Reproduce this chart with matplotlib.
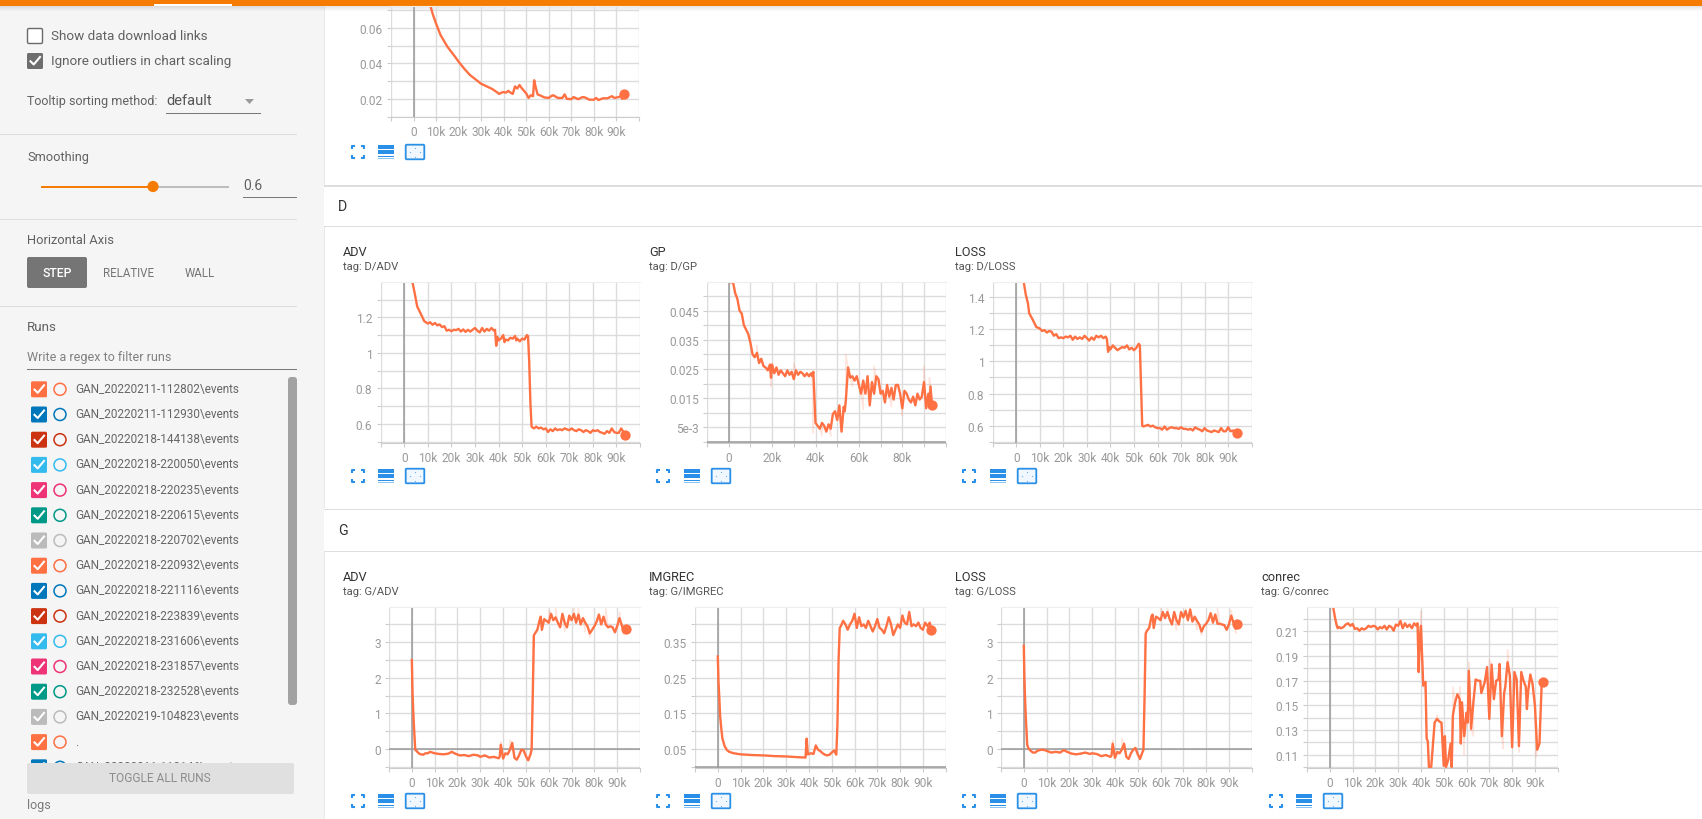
import matplotlib
matplotlib.use("Agg")
import matplotlib.pyplot as plt
from matplotlib.patches import Rectangle, FancyBboxPatch, Circle, Polygon

plt.rcParams['font.family'] = ['Roboto', 'DejaVu Sans']

W, H = 1702, 820
ORANGE = '#ff7043'
ACCENT = '#f57c00'
ICON = '#2a8fe6'

# chart data, steps in thousands
LOSS_X = [7.5, 8.5, 10, 12, 15, 18, 20, 22.5, 25, 27.5, 30, 32.5, 35, 38, 39, 40, 41, 42, 43, 44, 45, 46, 47, 48, 49, 50, 51, 52, 53, 53.5, 54, 55, 56, 58, 60, 61, 62, 64, 66, 67, 68, 70, 71, 73, 75, 76, 78, 80, 81, 82, 84, 86, 88, 89, 91, 92, 92.5, 93, 93.5]
LOSS_Y = [.0725, .068, .0625, .056, .0495, .0445, .041, .037, .0335, .031, .0285, .027, .0255, .0228, .0235, .0238, .0235, .0245, .0235, .0228, .027, .0258, .0278, .026, .0245, .023, .0205, .022, .0215, .0305, .0275, .0225, .022, .0208, .0205, .0215, .022, .0205, .0205, .0225, .020, .0198, .021, .0198, .021, .0208, .0195, .0195, .0205, .0193, .0203, .0203, .0215, .0205, .021, .0215, .02, .023, .023]

D_ADV_X = [3.5, 4.5, 5.5, 7, 8.5, 10, 11, 12, 13, 14, 15, 16, 17, 18, 19, 20, 21, 22, 23, 24, 25, 26, 27, 28, 29, 30, 31, 32, 33, 34, 35, 36, 37, 38, 38.5, 39, 39.5, 40, 41, 42, 42.5, 43, 44, 45, 46, 47, 47.5, 48, 49, 50, 51, 52, 52.5, 53, 53.5, 54, 55, 56, 57, 58, 59, 60, 61, 62, 63, 64, 65, 66, 67, 68, 69, 70, 71, 72, 73, 74, 75, 76, 77, 78, 79, 80, 81, 82, 83, 84, 85, 86, 87, 88, 89, 90, 91, 92, 93, 93.7]
D_ADV_Y = [1.397, 1.33, 1.26, 1.22, 1.178, 1.165, 1.172, 1.158, 1.168, 1.155, 1.16, 1.145, 1.15, 1.125, 1.13, 1.122, 1.13, 1.128, 1.135, 1.12, 1.132, 1.118, 1.13, 1.12, 1.13, 1.14, 1.125, 1.115, 1.14, 1.12, 1.135, 1.125, 1.14, 1.125, 1.13, 1.04, 1.09, 1.07, 1.08, 1.10, 1.06, 1.075, 1.07, 1.085, 1.08, 1.095, 1.07, 1.08, 1.065, 1.08, 1.075, 1.10, 1.095, 0.95, 0.72, 0.585, 0.575, 0.585, 0.575, 0.58, 0.57, 0.575, 0.555, 0.57, 0.56, 0.575, 0.565, 0.57, 0.565, 0.575, 0.57, 0.565, 0.575, 0.565, 0.56, 0.57, 0.565, 0.555, 0.565, 0.56, 0.55, 0.565, 0.56, 0.565, 0.555, 0.55, 0.545, 0.56, 0.55, 0.575, 0.555, 0.55, 0.55, 0.575, 0.555, 0.54]

D_GP_X = [1, 2, 3, 4, 5, 6, 7, 8, 9, 10, 11, 12, 13, 14, 15, 16, 17, 18, 19, 19.5, 20, 21, 22, 23, 24, 25, 26, 27, 28, 29, 30, 31, 32, 33, 34, 35, 36, 37, 38, 38.5, 39, 40, 41, 42, 43, 44, 45, 46, 47, 48, 49, 50, 51, 52, 53, 53.5, 54, 55, 56, 57, 58, 59, 60, 61, 62, 63, 64, 65, 66, 67, 68, 69, 70, 71, 72, 73, 74, 75, 76, 77, 78, 79, 80, 81, 82, 83, 84, 85, 86, 87, 88, 89, 90, 91, 92, 92.5, 93, 93.7]
D_GP_Y = [.0547, .0547, .051, .049, .045, .044, .040, .0385, .037, .034, .030, .029, .0305, .027, .0285, .026, .0255, .0245, .0265, .022, .0265, .0235, .0255, .023, .0245, .0235, .0225, .0245, .023, .024, .0215, .0245, .023, .024, .0235, .0225, .0235, .0225, .0235, .0225, .024, .0065, .0055, .0045, .0065, .0055, .0035, .006, .0045, .0095, .0105, .0075, .0125, .0035, .012, .0105, .0145, .0255, .022, .0225, .021, .0225, .0195, .0165, .021, .0165, .0225, .0125, .0205, .0165, .0225, .0215, .0165, .0175, .0135, .0195, .0155, .0185, .0145, .0195, .0195, .0165, .0115, .0175, .0165, .0145, .0135, .0155, .0125, .0165, .0145, .0155, .0205, .0115, .0165, .0125, .019, .0125]
D_GP_RAW_X = [3, 13, 19.5, 30, 39, 43, 47, 54, 57, 62, 67, 75, 80, 90, 92.5]
D_GP_RAW_Y = [.050, .033, .019, .027, .003, .002, .002, .030, .019, .011, .026, .012, .009, .026, .022]

D_TOTAL_X = [3.2, 4, 5, 5.5, 7, 8.5, 10, 11, 12, 13, 14, 15, 16, 17, 18, 19, 20, 21, 22, 23, 24, 25, 26, 27, 28, 29, 30, 31, 32, 33, 34, 35, 36, 37, 38, 38.5, 39, 39.5, 40, 41, 42, 43, 44, 45, 46, 47, 48, 49, 50, 51, 52, 52.5, 53, 53.5, 54, 55, 56, 57, 58, 59, 60, 61, 62, 63, 64, 65, 66, 67, 68, 69, 70, 71, 72, 73, 74, 75, 76, 77, 78, 79, 80, 81, 82, 83, 84, 85, 86, 87, 88, 89, 90, 91, 92, 93, 93.7]
D_TOTAL_Y = [1.493, 1.42, 1.36, 1.30, 1.26, 1.215, 1.205, 1.19, 1.195, 1.18, 1.19, 1.185, 1.16, 1.17, 1.145, 1.15, 1.145, 1.155, 1.15, 1.16, 1.135, 1.155, 1.14, 1.15, 1.14, 1.16, 1.145, 1.13, 1.15, 1.135, 1.16, 1.15, 1.16, 1.145, 1.155, 1.14, 1.06, 1.09, 1.075, 1.10, 1.085, 1.07, 1.08, 1.09, 1.085, 1.10, 1.075, 1.085, 1.07, 1.085, 1.11, 1.10, .85, .60, .595, .60, .605, .595, .60, .59, .585, .585, .575, .595, .575, .585, .59, .585, .585, .58, .59, .58, .58, .575, .58, .57, .59, .58, .575, .565, .585, .57, .565, .56, .57, .565, .56, .585, .565, .565, .59, .565, .57, .56, .555]

G_ADV_X = [0, .3, .8, 1.5, 2, 3, 4, 5, 6, 7, 8, 9, 10, 12, 14, 16, 17.5, 19, 21, 23, 25, 27, 29, 30, 32, 34, 36, 38, 38.5, 39, 40, 41, 42, 43, 44, 45, 46, 47, 48, 49, 50, 51, 52, 52.5, 53, 53.5, 54, 55, 56, 56.5, 57, 58, 59, 60, 61, 62, 63, 64, 65, 66, 67, 68, 69, 70, 71, 72, 73, 74, 75, 76, 77, 78, 79, 80, 81, 82, 83, 84, 85, 86, 87, 88, 89, 90, 91, 92, 93, 93.7]
G_ADV_Y = [2.5, 1.6, .8, -.02, -.05, -.12, -.15, -.16, -.12, -.12, -.08, -.1, -.12, -.14, -.15, -.13, -.08, -.13, -.18, -.17, -.2, -.16, -.18, -.22, -.18, -.24, -.22, -.26, -.22, .12, -.27, -.12, -.15, -.02, .17, -.25, -.3, -.18, -.02, -.04, -.2, -.32, -.15, -.02, 1.5, 3.2, 3.25, 3.35, 3.62, 3.72, 3.35, 3.65, 3.6, 3.55, 3.8, 3.62, 3.7, 3.55, 3.42, 3.8, 3.55, 3.42, 3.75, 3.62, 3.8, 3.55, 3.78, 3.5, 3.68, 3.55, 3.45, 3.25, 3.35, 3.45, 3.58, 3.78, 3.5, 3.72, 3.5, 3.42, 3.45, 3.42, 3.28, 3.45, 3.68, 3.48, 3.3, 3.38]
G_ADV_RAW_X = [53, 60, 63, 67, 71, 73, 76, 78, 85, 91, 93, 39, 43]
G_ADV_RAW_Y = [3.1, 3.9, 3.95, 3.3, 3.95, 3.95, 3.3, 3.15, 3.95, 3.85, 3.2, .2, .25]

G_IMG_X = [0, .3, .7, 1, 1.5, 2, 3, 4, 5, 7, 10, 15, 20, 25, 30, 35, 38.5, 39, 39.5, 40, 41, 42, 43, 44, 45, 46, 47, 48, 49, 50, 51, 52, 52.5, 53, 53.5, 54, 55, 56, 57, 58, 59, 60, 61, 62, 63, 64, 65, 66, 67, 68, 69, 70, 71, 72, 73, 74, 75, 76, 77, 78, 79, 80, 81, 82, 83, 84, 85, 86, 87, 88, 89, 90, 91, 92, 93, 93.7]
G_IMG_Y = [.31, .24, .19, .145, .11, .08, .058, .047, .042, .038, .035, .033, .032, .030, .029, .027, .026, .079, .035, .036, .038, .036, .06, .048, .044, .038, .034, .032, .034, .040, .046, .034, .12, .30, .39, .395, .41, .40, .385, .40, .41, .43, .39, .42, .395, .40, .39, .41, .395, .38, .395, .415, .39, .385, .375, .395, .42, .40, .37, .385, .40, .39, .425, .405, .40, .435, .395, .40, .395, .405, .39, .385, .405, .395, .405, .385]

G_LOSS_X = [0, .3, .8, 1.5, 2, 3, 4, 5, 6, 7, 8, 9, 10, 12, 14, 16, 17.5, 19, 21, 23, 25, 27, 29, 30, 32, 34, 36, 38, 38.5, 39, 40, 41, 42, 43, 44, 45, 46, 47, 48, 49, 50, 51, 52, 52.5, 53, 53.5, 54, 55, 56, 56.5, 57, 58, 59, 60, 61, 62, 63, 64, 65, 66, 67, 68, 69, 70, 71, 72, 73, 74, 75, 76, 77, 78, 79, 80, 81, 82, 83, 84, 85, 86, 87, 88, 89, 90, 91, 92, 93, 93.7]
G_LOSS_Y = [2.9, 1.9, 1.0, .12, .02, -.05, -.1, -.1, -.05, -.03, -.02, -.03, -.05, -.1, -.08, -.1, -.03, -.08, -.13, -.15, -.13, -.1, -.14, -.12, -.14, -.2, -.17, -.22, -.18, .15, -.25, -.08, -.12, -.02, .15, -.22, -.28, -.12, -.02, .03, -.15, -.28, -.1, -.02, 1.5, 3.25, 3.32, 3.4, 3.72, 3.78, 3.4, 3.72, 3.68, 3.62, 3.85, 3.68, 3.85, 3.65, 3.5, 3.85, 3.62, 3.5, 3.85, 3.7, 3.88, 3.62, 3.92, 3.58, 3.72, 3.6, 3.5, 3.3, 3.45, 3.52, 3.62, 3.82, 3.55, 3.78, 3.52, 3.52, 3.5, 3.48, 3.35, 3.5, 3.75, 3.55, 3.38, 3.5]
G_LOSS_RAW_X = [53, 60, 63, 67, 71, 73, 76, 78, 85, 91, 93, 39, 43]
G_LOSS_RAW_Y = [3.15, 3.95, 3.97, 3.35, 3.97, 3.97, 3.35, 3.2, 3.97, 3.9, 3.25, .25, .3]

G_CON_X = [1.5, 2.3, 3, 3.5, 4, 5, 6, 7, 8, 9, 10, 11, 12, 13, 14, 15, 16, 17, 18, 19, 20, 21, 22, 23, 24, 25, 26, 27, 28, 29, 30, 31, 32, 33, 34, 35, 36, 37, 38, 38.5, 39, 39.5,
           40, 41, 42, 42.5, 43, 43.5, 44.5, 45, 46, 47, 48, 49, 50, 50.5, 51, 52, 53, 53.5, 54, 55, 56, 57, 57.5, 58, 59, 60, 60.5, 61, 62, 63, 64, 65, 66, 66.5, 68, 69, 70, 71, 72, 73, 74, 74.5, 75.5, 76.5, 77, 78, 79, 80, 81, 82, 83, 84, 85, 86, 86.5, 87, 88, 89, 90, 91, 92, 93, 93.7]
G_CON_Y = [.2295, .221, .215, .2125, .2135, .2125, .2135, .2155, .2165, .2145, .216, .212, .2125, .2105, .2125, .2115, .2125, .2145, .2135, .2145, .214, .2115, .2135, .2125, .2145, .2115, .2145, .2135, .2105, .2155, .2145, .2185, .2125, .2165, .2135, .2155, .2125, .2165, .2145, .2165, .177, .205,
           .2145, .166, .169, .123, .121, .1, .1, .112, .136, .139, .137, .136, .101, .125, .1, .106, .119, .1, .1417, .1525, .159, .155, .119, .1525, .125, .144, .136, .178, .131, .1525, .171, .17, .17, .16, .169, .181, .139, .183, .155, .17, .171, .1835, .125, .16, .165, .185, .174, .116, .177, .171, .117, .177, .17, .165, .147, .161, .175, .167, .15, .114, .119, .169, .169]
G_CON_RAW_X = [40, 42, 44, 47, 51, 54, 57, 59, 61, 63, 70, 76, 78, 83, 90.5]
G_CON_RAW_Y = [.226, .16, .098, .142, .098, .165, .165, .11, .185, .125, .187, .115, .195, .112, .108]

X_TICKS = [-10000, 0, 10000, 20000, 30000, 40000, 50000, 60000, 70000, 80000, 90000, 100000]
X_LABELS = ['', '0', '10k', '20k', '30k', '40k', '50k', '60k', '70k', '80k', '90k', '']
X_LABELS_GP = ['', '0', '', '20k', '', '40k', '', '60k', '', '80k', '', '']

LOSS_TICKS = [.01, .02, .03, .04, .05, .06, .07]
LOSS_LABELS = ['', '0.02', '', '0.04', '', '0.06', '']
ADV_TICKS = [.5, .6, .7, .8, .9, 1, 1.1, 1.2, 1.3]
ADV_LABELS = ['', '0.6', '', '0.8', '', '1', '', '1.2', '']
GP_TICKS = [0, .005, .01, .015, .02, .025, .03, .035, .04, .045, .05]
GP_LABELS = ['', '5e-3', '', '0.015', '', '0.025', '', '0.035', '', '0.045', '']
TOTAL_TICKS = [.5, .6, .7, .8, .9, 1, 1.1, 1.2, 1.3, 1.4]
TOTAL_LABELS = ['', '0.6', '', '0.8', '', '1', '', '1.2', '', '1.4']
G_TICKS = [-.5, 0, .5, 1, 1.5, 2, 2.5, 3, 3.5]
G_LABELS = ['', '0', '', '1', '', '2', '', '3', '']
IMG_TICKS = [0, .05, .1, .15, .2, .25, .3, .35, .4]
IMG_LABELS = ['', '0.05', '', '0.15', '', '0.25', '', '0.35', '']
CON_TICKS = [.10, .11, .12, .13, .14, .15, .16, .17, .18, .19, .20, .21, .22]
CON_LABELS = ['', '0.11', '', '0.13', '', '0.15', '', '0.17', '', '0.19', '', '0.21', '']

RUN_NAMES = ['GAN_20220211-112802\\events', 'GAN_20220211-112930\\events', 'GAN_20220218-144138\\events',
             'GAN_20220218-220050\\events', 'GAN_20220218-220235\\events', 'GAN_20220218-220615\\events',
             'GAN_20220218-220702\\events', 'GAN_20220218-220932\\events', 'GAN_20220218-221116\\events',
             'GAN_20220218-223839\\events', 'GAN_20220218-231606\\events', 'GAN_20220218-231857\\events',
             'GAN_20220218-232528\\events', 'GAN_20220219-104823\\events', '.', 'GAN_20220211-113146\\events']
RUN_COLORS = ['#ff7043', '#0077bb', '#cc3311', '#33bbee', '#ee3377', '#009988', '#bbbbbb'] * 2 + ['#ff7043', '#0077bb']


def make_chart(fig, box, xlim, ylim, xdata, ydata, yticks, ylabels, xlabels=X_LABELS, raw=None, zero=True):
    left, top, right, bottom = box
    ax = fig.add_axes([left / W, 1 - bottom / H, (right - left) / W, (bottom - top) / H])
    ax.patch.set_alpha(0)
    ax.set_xlim(*xlim)
    ax.set_ylim(*ylim)
    ax.set_xticks(X_TICKS, xlabels)
    ax.set_yticks(yticks, ylabels)
    ax.grid(True, color='#dcdcdc', lw=1.0)
    ax.set_axisbelow(True)
    ax.tick_params(length=3, color='#cccccc', labelcolor='#9a9a9a', labelsize=8.6, pad=3)
    for side in ['left', 'right']:
        ax.spines[side].set_visible(False)
    ax.spines['top'].set_color('#eeeeee')
    ax.spines['bottom'].set_color('#cccccc')
    ax.axvline(0, color='#999999', lw=1.1, zorder=1)
    if zero:
        ax.axhline(0, color='#999999', lw=1.1, zorder=1)
    xs = [v * 1000 for v in xdata]
    if raw is not None:
        merged = sorted(list(zip(xs, ydata)) + [(a * 1000, b) for a, b in zip(raw[0], raw[1])])
        ax.plot([p[0] for p in merged], [p[1] for p in merged], color=ORANGE, alpha=0.18, lw=1.1)
    ax.plot(xs, ydata, color=ORANGE, lw=1.7)
    ax.plot(xs[-1], ydata[-1], 'o', color=ORANGE, ms=7.4, mew=0, clip_on=False)
    return ax


fig = plt.figure(figsize=(W / 100, H / 100), dpi=100, facecolor='white')

# page layer in pixel coordinates, y going down
ui = fig.add_axes([0, 0, 1, 1])
ui.set_xlim(0, W)
ui.set_ylim(H, 0)
ui.axis('off')


def label(x, y, s, size=10, color='#616161', **kw):
    ui.text(x, y, s, fontsize=size, color=color, va='center', **kw)


def rect(x0, y0, x1, y1, color, z=1):
    ui.add_patch(Rectangle((x0, y0), x1 - x0, y1 - y0, fc=color, ec='none', zorder=z))


def check_box(x, y, size, color):
    ui.add_patch(FancyBboxPatch((x + 1, y + 1), size - 2, size - 2, boxstyle='round,pad=1,rounding_size=1.5', fc=color, ec='none', zorder=3))
    ui.plot([x + 3.5, x + size * .42, x + size - 3], [y + size * .52, y + size - 4.5, y + 4], color='white', lw=1.5, zorder=4)


rect(0, 0, 324, H, '#f5f5f5')
for i in range(5):
    rect(0, 7 + i, W, 8 + i, '#000000', 5)
    ui.patches[-1].set_alpha(.10 - i * .02)
rect(0, 0, W, 7, ACCENT, 6)
rect(154, 5, 232, 7, '#ffffff', 7)

# sidebar controls
ui.add_patch(FancyBboxPatch((28, 30), 14, 14, boxstyle='round,pad=0.5,rounding_size=1.5', fc='white', ec='#6a6a6a', lw=1, zorder=3))
label(51, 37, 'Show data download links', size=9.7)
check_box(27, 54, 16, '#6e6e6e')
label(51, 62, 'Ignore outliers in chart scaling', size=9.7)
label(27, 102, 'Tooltip sorting method:', size=9)
label(166, 101, 'default', size=10.6, color='#555555')
rect(166, 114, 261, 115, '#777777')
ui.add_patch(Polygon([(245, 100), (254, 100), (249.5, 105)], fc='#9a9a9a', ec='none'))
for y in [135, 220, 307]:
    rect(0, y, 297, y + 1, '#dddddd')
label(27, 157, 'Smoothing', size=9.2)
rect(41, 187, 229, 189, '#bdbdbd', 2)
rect(41, 187, 153, 189, ACCENT, 2)
ui.add_patch(Circle((153, 187.5), 5.6, fc=ACCENT, ec='none', zorder=3))
label(243, 186, '0.6')
rect(243, 198, 297, 199, '#777777')
label(27, 241, 'Horizontal Axis', size=9.3)
ui.add_patch(FancyBboxPatch((28, 259), 58, 29, boxstyle='round,pad=1,rounding_size=2', fc='#757575', ec='none', zorder=3))
label(57, 273.5, 'STEP', size=8.8, color='white', ha='center', weight='medium', zorder=4)
label(128, 273.5, 'RELATIVE', size=8.3, color='#757575', ha='center')
label(200, 273.5, 'WALL', size=8.3, color='#757575', ha='center')
label(27, 328, 'Runs', size=9.6)
label(27, 358, 'Write a regex to filter runs', size=9, color='#808080')
rect(27, 370, 297, 371, '#777777')

# runs list
for i, (name, color) in enumerate(zip(RUN_NAMES, RUN_COLORS)):
    yc = 390.3 + i * 25.2
    check_box(31, yc - 8, 16, color)
    ui.add_patch(Circle((60, yc), 6, fc='none', ec=color, lw=1.1, zorder=3))
    label(75.5, yc - 1, name, size=8.5, color='#666666')
rect(0, 764, 300, H, '#f5f5f5', 5)
ui.add_patch(FancyBboxPatch((289, 379), 7, 326, boxstyle='round,pad=1,rounding_size=3', fc='#a2a2a2', ec='none', zorder=3))
ui.add_patch(FancyBboxPatch((28, 765), 265, 29, boxstyle='round,pad=1,rounding_size=2', fc='#e0e0e0', ec='none', zorder=6))
label(160, 779, 'TOGGLE ALL RUNS', size=8.6, color='#8c8c8c', ha='center', zorder=7)
label(27, 806, 'logs', size=9, color='#7a7a7a', zorder=7)

# section bars
for y0, y1 in [(186, 187.5), (227, 228), (509.5, 511), (551.5, 552.5)]:
    rect(324, y0, W, y1, '#dddddd')
rect(324, 8, 325, 186, '#e8e8e8')
rect(324, 228, 325, 509, '#e8e8e8')
rect(324, 552, 325, H, '#e8e8e8')
label(338, 207, 'D', size=10.2, color='#333333', zorder=7)
label(338, 531, 'G', size=10.2, color='#333333', zorder=7)

# chart titles
for x, y, title, tag in [(343, 253, 'ADV', 'tag: D/ADV'), (649, 253, 'GP', 'tag: D/GP'), (955, 253, 'LOSS', 'tag: D/LOSS'),
                         (343, 578, 'ADV', 'tag: G/ADV'), (649, 578, 'IMGREC', 'tag: G/IMGREC'), (955, 578, 'LOSS', 'tag: G/LOSS'),
                         (1261, 578, 'conrec', 'tag: G/conrec')]:
    label(x, y, title, size=9.2, color='#333333')
    label(x, y + 14, tag, size=8.1, color='#555555')

# icons under the charts
for x0, x1, x2, y in [(358, 386, 415, 153), (358, 386, 415, 477), (663, 692, 721, 477), (969, 998, 1027, 477),
                      (358, 386, 415, 802), (663, 692, 721, 802), (969, 998, 1027, 802), (1276, 1304, 1333, 802)]:
    for sx in [-1, 1]:
        for sy in [-1, 1]:
            ui.plot([x0 + sx * 3, x0 + sx * 6, x0 + sx * 6], [y + sy * 6, y + sy * 6, y + sy * 3], color=ICON, lw=1.5, solid_capstyle='butt', zorder=3)
    rect(x1 - 8, y - 7, x1 + 8, y - 3.5, ICON, 3)
    rect(x1 - 8, y - 2, x1 + 8, y + 1.5, ICON, 3)
    rect(x1 - 8, y + 3.5, x1 + 8, y + 4.5, ICON, 3)
    rect(x1 - 8, y + 6, x1 + 8, y + 7, '#8cc4f2', 3)
    ui.add_patch(FancyBboxPatch((x2 - 9, y - 7), 18, 14, boxstyle='round,pad=0.3,rounding_size=1', fc='#f0f7fe', ec=ICON, lw=1.3, zorder=3))
    ui.plot([x2 - 5, x2 + 5, x2, x2], [y, y, y - 4.5, y + 4.5], ' ', marker='s', ms=0.8, mew=0, color='#6fb1ee', zorder=4)

XLIM = (-10000, 100000)
make_chart(fig, (391, 7, 639, 117.5), XLIM, (.0101, .0725), LOSS_X, LOSS_Y, LOSS_TICKS, LOSS_LABELS, zero=False)
make_chart(fig, (380.7, 283.3, 640, 444), XLIM, (.493, 1.397), D_ADV_X, D_ADV_Y, ADV_TICKS, ADV_LABELS, zero=False)
make_chart(fig, (707, 283.3, 945.7, 444), XLIM, (-.0004, .0547), D_GP_X, D_GP_Y, GP_TICKS, GP_LABELS, xlabels=X_LABELS_GP, raw=(D_GP_RAW_X, D_GP_RAW_Y))
make_chart(fig, (992.7, 283.3, 1251.7, 444), XLIM, (.492, 1.493), D_TOTAL_X, D_TOTAL_Y, TOTAL_TICKS, TOTAL_LABELS, zero=False)
make_chart(fig, (389, 608.3, 640, 769), XLIM, (-.534, 3.983), G_ADV_X, G_ADV_Y, G_TICKS, G_LABELS, raw=(G_ADV_RAW_X, G_ADV_RAW_Y))
make_chart(fig, (695, 608.3, 945.7, 769), XLIM, (-.0034, .448), G_IMG_X, G_IMG_Y, IMG_TICKS, IMG_LABELS)
make_chart(fig, (1001, 608.3, 1251.7, 769), XLIM, (-.534, 3.983), G_LOSS_X, G_LOSS_Y, G_TICKS, G_LABELS, raw=(G_LOSS_RAW_X, G_LOSS_RAW_Y))
make_chart(fig, (1307, 608.3, 1557.7, 769), XLIM, (.0992, .2295), G_CON_X, G_CON_Y, CON_TICKS, CON_LABELS, raw=(G_CON_RAW_X, G_CON_RAW_Y), zero=False)

fig.savefig('out.png', dpi=100)
